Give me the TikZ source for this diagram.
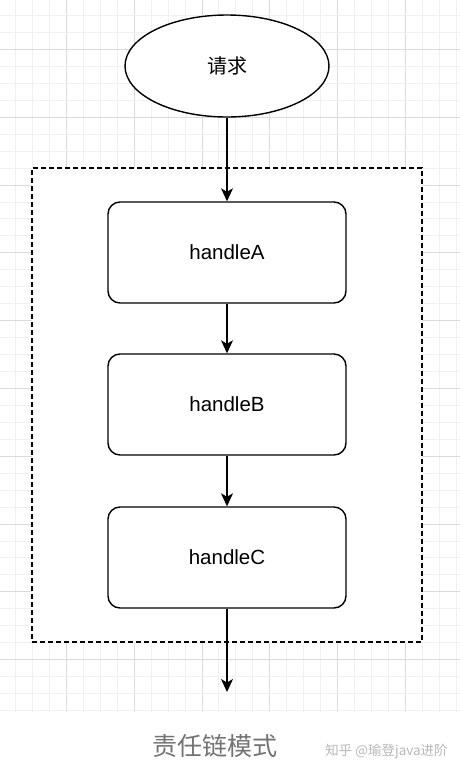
\documentclass[tikz,border=0pt]{standalone}
\usepackage{fontspec}
\setmainfont{Liberation Sans}
\newfontfamily\cjk{Noto Sans CJK SC}
\usetikzlibrary{shapes.geometric,arrows.meta}
\tikzset{
  minorgrid/.style={draw=black!6, line width=0.8pt},
  majorgrid/.style={draw=black!14, line width=0.8pt},
  stepbox/.style={draw=black, line width=1.4pt, rounded corners=12pt, fill=white,
    minimum width=238pt, minimum height=101pt, inner sep=0pt, font=\fontsize{20.5}{24}\selectfont},
  startnode/.style={draw=black, line width=1.4pt, ellipse, fill=white,
    minimum width=204pt, minimum height=102pt, inner sep=0pt, font=\cjk\fontsize{20}{24}\selectfont},
  framebox/.style={draw=black, line width=1.5pt, dash pattern=on 5pt off 3pt, fill=white,
    minimum width=390pt, minimum height=474pt, inner sep=0pt},
  flow/.style={draw=black, line width=1.4pt, -{Stealth[length=13pt,width=12pt,inset=3.5pt]}},
}
\begin{document}
\begin{tikzpicture}[x=1pt,y=-1pt]
\useasboundingbox (0,0) rectangle (460,772);
\fill[white] (0,0) rectangle (460,772);
% grid
\foreach \i in {0,...,27}{
  \pgfmathsetmacro{\gx}{-1.5+16.95*\i}
  \pgfmathtruncatemacro{\gm}{mod(\i,4)}
  \ifnum\gm=0
    \draw[majorgrid] (\gx,0) -- (\gx,712);
  \else
    \draw[minorgrid] (\gx,0) -- (\gx,712);
  \fi
}
\foreach \j in {0,...,42}{
  \pgfmathsetmacro{\gy}{-1.5+16.95*\j}
  \pgfmathtruncatemacro{\gm}{mod(\j,4)}
  \ifnum\gm=3
    \draw[majorgrid] (0,\gy) -- (460,\gy);
  \else
    \draw[minorgrid] (0,\gy) -- (460,\gy);
  \fi
}
% frame
\node[framebox] (frame) at (227,405) {};
% nodes
\node[startnode] (req) at (227,66) {请求};
\node[stepbox] (A) at (227,252.5) {handleA};
\node[stepbox] (B) at (227,404.5) {handleB};
\node[stepbox] (C) at (227,557.5) {handleC};
\coordinate (out) at (227,692);
% connectors
\draw[flow] (req.south) -- (A.north);
\draw[flow] (A.south) -- (B.north);
\draw[flow] (B.south) -- (C.north);
\draw[flow] (C.south) -- (out);
% captions
\node[font=\cjk\fontsize{25}{30}\selectfont, text=black!55, inner sep=0pt] (cap) at (214.5,746) {责任链模式};
\node[font=\cjk\fontsize{13.5}{16}\selectfont, text=black!28, inner sep=0pt] (wm) at (386.5,751) {知乎 @瑜登java进阶};
\end{tikzpicture}
\end{document}
